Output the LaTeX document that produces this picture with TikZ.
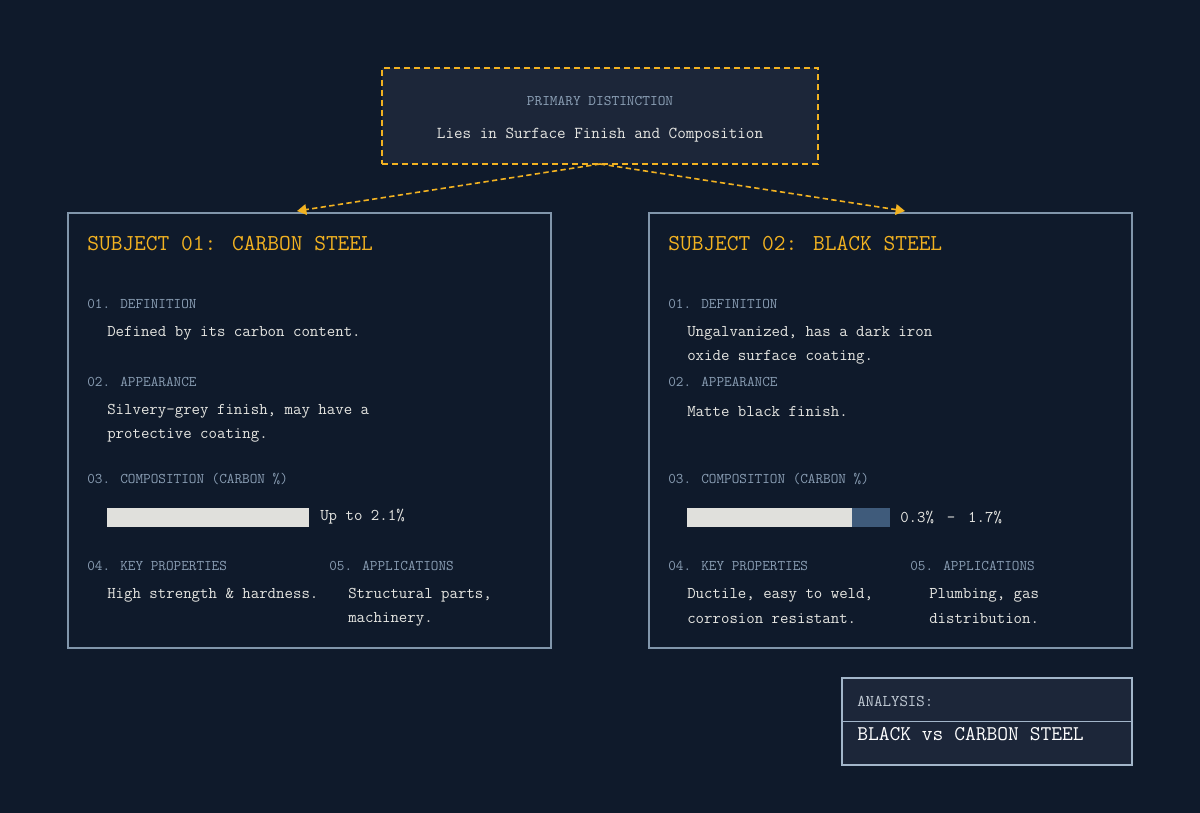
\documentclass[tikz,border=0pt]{standalone}
\usepackage{fontspec}
\setmainfont{Latin Modern Mono}
\usetikzlibrary{arrows.meta}
\definecolor{bg}{HTML}{0F1A2B}
\definecolor{panel}{HTML}{1C2639}
\definecolor{accent}{HTML}{F2B221}
\definecolor{slate}{HTML}{8A9EB4}
\definecolor{frame}{HTML}{8196AB}
\definecolor{light}{HTML}{E6E6E2}
\definecolor{alabel}{HTML}{C3CCD6}
\definecolor{barlight}{HTML}{E0E0DC}
\definecolor{bardark}{HTML}{3F5B7B}
\definecolor{aframe}{HTML}{A3B6CA}
\begin{document}
\begin{tikzpicture}[x=0.75pt,y=-0.75pt,
  box/.style={draw=frame,line width=1pt,fill=bg,inner sep=0pt},
  dashbox/.style={draw=accent,line width=1.5pt,dash pattern=on 4.5pt off 3pt,fill=panel,inner sep=0pt},
  linkarrow/.style={draw=accent,line width=1.2pt,dash pattern=on 4pt off 2.5pt,-{Triangle[width=8pt,length=7pt]}},
  txt/.style={anchor=west,inner sep=0pt,text=light,font=\fontsize{12.3}{14}\selectfont},
  lbl/.style={anchor=west,inner sep=0pt,text=slate,font=\fontsize{11.1}{13}\selectfont},
  ttl/.style={anchor=west,inner sep=0pt,text=accent,font=\fontsize{17.1}{20}\selectfont},
  bar/.style={draw=none,inner sep=0pt,minimum height=14.25pt}]
\fill[bg] (0,0) rectangle (1200,813);
\useasboundingbox (0,0) rectangle (1200,813);

% top box
\node[dashbox,minimum width=327pt,minimum height=72pt] (top) at (600,116) {};
\node[anchor=center,inner sep=0pt,text=slate,font=\fontsize{11}{13}\selectfont] (topl) at (600,101) {PRIMARY DISTINCTION};
\node[anchor=center,inner sep=0pt,text=light,font=\fontsize{12.5}{14}\selectfont] (topt) at (600,135) {Lies in Surface Finish and Composition};

% subject boxes
\node[box,minimum width=362.25pt,minimum height=326.25pt] (lbox) at (309.5,430.5) {};
\node[box,minimum width=362.25pt,minimum height=326.25pt] (rbox) at (890.5,430.5) {};

% arrows
\coordinate (src) at (600,164);
\coordinate (lt) at (297,211);
\coordinate (rt) at (905,211);
\draw[linkarrow] (src) -- (lt);
\draw[linkarrow] (src) -- (rt);

% left content
\node[ttl] (lt1) at (87,244) {SUBJECT 01: CARBON STEEL};
\node[lbl] (ll1) at (87,304) {01. DEFINITION};
\node[txt] (lb1) at (107,333) {Defined by its carbon content.};
\node[lbl] (ll2) at (87,382) {02. APPEARANCE};
\node[txt] (lb2) at (107,411) {Silvery-grey finish, may have a};
\node[txt] (lb2b) at (107,435) {protective coating.};
\node[lbl] (ll3) at (87,479) {03. COMPOSITION (CARBON \%)};
\node[bar,fill=barlight,minimum width=151.5pt] (lbar) at (208,517.5) {};
\node[txt] (lpct) at (320,517) {Up to 2.1\%};
\node[lbl] (ll4) at (87,566) {04. KEY PROPERTIES};
\node[lbl] (ll5) at (329,566) {05. APPLICATIONS};
\node[txt] (lb4) at (107,595) {High strength \& hardness.};
\node[txt] (lb5) at (348,595) {Structural parts,};
\node[txt] (lb5b) at (348,619) {machinery.};

% right content
\node[ttl] (rt1) at (668,244) {SUBJECT 02: BLACK STEEL};
\node[lbl] (rl1) at (668,304) {01. DEFINITION};
\node[txt] (rb1) at (687,333) {Ungalvanized, has a dark iron};
\node[txt] (rb1b) at (687,357) {oxide surface coating.};
\node[lbl] (rl2) at (668,382) {02. APPEARANCE};
\node[txt] (rb2) at (687,411) {Matte black finish.};
\node[lbl] (rl3) at (668,479) {03. COMPOSITION (CARBON \%)};
\node[bar,fill=barlight,minimum width=123.75pt] (rbar1) at (769.5,517.5) {};
\node[bar,fill=bardark,minimum width=28.5pt] (rbar2) at (871,517.5) {};
\node[txt] (rpct) at (900,517) {0.3\% \makebox[1.05em]{–} 1.7\%};
\node[lbl] (rl4) at (668,566) {04. KEY PROPERTIES};
\node[lbl] (rl5) at (910,566) {05. APPLICATIONS};
\node[txt] (rb4) at (687,595) {Ductile, easy to weld,};
\node[txt] (rb4b) at (687,619) {corrosion resistant.};
\node[txt] (rb5) at (929,595) {Plumbing, gas};
\node[txt] (rb5b) at (929,619) {distribution.};

% analysis box
\node[draw=aframe,line width=1.1pt,fill=panel,inner sep=0pt,minimum width=217.5pt,minimum height=65.25pt] (an) at (987,721.5) {};
\draw[aframe,line width=1pt] (an.west) -- (an.east);
\node[anchor=west,inner sep=0pt,text=alabel,font=\fontsize{12.3}{14}\selectfont] (anl) at (857,701) {ANALYSIS:};
\node[anchor=west,inner sep=0pt,text=white,font=\fontsize{15.7}{18}\selectfont] (ant) at (857,734) {BLACK vs CARBON STEEL};
\end{tikzpicture}
\end{document}
